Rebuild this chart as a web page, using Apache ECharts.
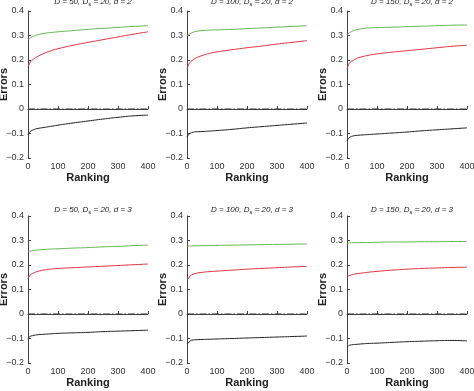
<!DOCTYPE html>
<html><head><meta charset="utf-8">
<script src="https://cdn.jsdelivr.net/npm/echarts@6/dist/echarts.min.js"></script>
<style>html,body{margin:0;padding:0;background:#fff}#c{width:474px;height:391px}</style>
</head><body><div id="c"></div>
<script>
// Ranking positions (x)
const ranking = [0, 5, 10, 20, 30, 50, 75, 100, 150, 200, 250, 300, 350, 400];
const zeroX = [0, 400];
const zeroY = [0, 0];
const yTicks = ['0.4','0.3','0.2','0.1','0','-0.1','-0.2'];
const xTicks = ['0','100','200','300','400'];

const titles = [
  ['50','2'], ['100','2'], ['150','2'],
  ['50','3'], ['100','3'], ['150','3']
];

// Panel 1: D=50, d=2
const green1 = [0.283,0.288,0.292,0.298,0.302,0.308,0.312,0.315,0.320,0.325,0.329,0.333,0.337,0.340];
const red1   = [0.170,0.185,0.195,0.205,0.213,0.225,0.237,0.246,0.260,0.272,0.283,0.294,0.305,0.315];
const black1 = [-0.105,-0.095,-0.090,-0.084,-0.080,-0.076,-0.071,-0.066,-0.057,-0.049,-0.041,-0.034,-0.028,-0.025];
// Panel 2: D=100, d=2
const green2 = [0.298,0.303,0.307,0.313,0.317,0.320,0.322,0.323,0.325,0.328,0.331,0.334,0.337,0.340];
const red2   = [0.163,0.180,0.190,0.200,0.208,0.218,0.227,0.233,0.242,0.250,0.257,0.265,0.272,0.279];
const black2 = [-0.115,-0.105,-0.100,-0.095,-0.093,-0.092,-0.090,-0.088,-0.083,-0.077,-0.072,-0.067,-0.062,-0.057];
// Panel 3: D=150, d=2
const green3 = [0.302,0.308,0.313,0.319,0.323,0.328,0.331,0.332,0.334,0.336,0.338,0.340,0.342,0.343];
const red3   = [0.163,0.180,0.190,0.198,0.205,0.213,0.220,0.225,0.232,0.238,0.244,0.250,0.256,0.260];
const black3 = [-0.130,-0.120,-0.115,-0.110,-0.108,-0.106,-0.104,-0.102,-0.098,-0.094,-0.089,-0.085,-0.081,-0.077];
// Panel 4: D=50, d=3
const green4 = [0.255,0.256,0.257,0.259,0.261,0.263,0.265,0.266,0.269,0.271,0.274,0.276,0.279,0.281];
const red4   = [0.145,0.155,0.162,0.168,0.173,0.179,0.183,0.186,0.189,0.192,0.195,0.198,0.201,0.204];
const black4 = [-0.100,-0.093,-0.090,-0.087,-0.085,-0.083,-0.081,-0.079,-0.077,-0.075,-0.072,-0.070,-0.068,-0.066];
// Panel 5: D=100, d=3
const green5 = [0.276,0.277,0.277,0.278,0.278,0.279,0.279,0.280,0.281,0.282,0.283,0.284,0.285,0.286];
const red5   = [0.148,0.146,0.155,0.162,0.166,0.170,0.173,0.175,0.179,0.183,0.186,0.189,0.192,0.194];
const black5 = [-0.122,-0.118,-0.110,-0.106,-0.105,-0.104,-0.103,-0.102,-0.100,-0.098,-0.096,-0.094,-0.092,-0.090];
// Panel 6: D=150, d=3
const green6 = [0.287,0.289,0.290,0.291,0.291,0.292,0.292,0.293,0.294,0.294,0.295,0.295,0.296,0.296];
const red6   = [0.150,0.155,0.158,0.161,0.164,0.167,0.171,0.174,0.179,0.183,0.186,0.188,0.190,0.191];
const black6 = [-0.135,-0.130,-0.127,-0.125,-0.124,-0.122,-0.120,-0.119,-0.116,-0.113,-0.111,-0.109,-0.108,-0.110];

const greens = [green1,green2,green3,green4,green5,green6];
const reds = [red1,red2,red3,red4,red5,red6];
const blacks = [black1,black2,black3,black4,black5,black6];

const FONT = '"Liberation Sans", Arial, sans-serif';
const lefts = [28, 187, 347];
const tops = [11, 216];
const W = 120, H = 147;

const grid = [], xAxis = [], yAxis = [], series = [], title = [];
const pair = a => ranking.map((x,i)=>[x,a[i]]);

for (let p = 0; p < 6; p++) {
  const col = p % 3, row = Math.floor(p / 3);
  grid.push({left: lefts[col], top: tops[row], width: W, height: H,
    containLabel:false, outerBoundsMode:'none'});
  xAxis.push({
    type:'value', gridIndex:p, min:0, max:400, interval:100,
    name:'Ranking', nameLocation:'middle', nameGap:14, nameMoveOverlap:false,
    nameTextStyle:{fontFamily:FONT, fontWeight:'bold', fontSize:11, color:'#222'},
    axisLine:{lineStyle:{color:'#444', width:1}},
    axisTick:{inside:true, length:3, lineStyle:{color:'#444'}},
    axisLabel:{fontFamily:FONT, fontSize:9, color:'#333', margin:4,
      formatter: v => xTicks[Math.round(v/100)]},
    splitLine:{show:false}
  });
  yAxis.push({
    type:'value', gridIndex:p, min:-0.2, max:0.4, interval:0.1,
    name:'Errors', nameLocation:'middle', nameGap:19, nameMoveOverlap:false,
    nameTextStyle:{fontFamily:FONT, fontWeight:'bold', fontSize:11, color:'#222'},
    axisLine:{show:true, lineStyle:{color:'#444', width:1}},
    axisTick:{show:true, inside:true, length:3, lineStyle:{color:'#444'}},
    axisLabel:{fontFamily:FONT, fontSize:9, color:'#333', margin:4,
      formatter: v => yTicks[Math.round((0.4 - v)*10)].replace('-','\u2212')},
    splitLine:{show:false}
  });
  const cx = lefts[col] + W/2;
  title.push({
    text: 'D = ' + titles[p][0] + ', D{s|s} = 20, d = ' + titles[p][1],
    left: cx, top: row === 0 ? -8 : 200, textAlign:'center',
    textStyle:{fontFamily:FONT, fontStyle:'italic', fontSize:8, fontWeight:'normal', color:'#222',
      rich:{s:{fontSize:6, fontStyle:'italic', verticalAlign:'bottom', padding:[4,0,0,0]}}}
  });
  series.push({type:'line', xAxisIndex:p, yAxisIndex:p, data: zeroX.map((x,i)=>[x,zeroY[i]]),
    symbol:'none', lineStyle:{color:'#333', width:1, type:[7,2,1.5,2]}, silent:true});
  series.push({type:'line', xAxisIndex:p, yAxisIndex:p, data: pair(greens[p]), smooth:true,
    symbol:'none', lineStyle:{color:'#5cb84a', width:1}});
  series.push({type:'line', xAxisIndex:p, yAxisIndex:p, data: pair(reds[p]), smooth:true,
    symbol:'none', lineStyle:{color:'#e0303c', width:1}});
  series.push({type:'line', xAxisIndex:p, yAxisIndex:p, data: pair(blacks[p]), smooth:true,
    symbol:'none', lineStyle:{color:'#222', width:1}});
}

const chart = echarts.init(document.getElementById('c'), null, {renderer:'canvas'});
chart.setOption({animation:false, backgroundColor:'#fff', title, grid, xAxis, yAxis, series});
</script>
</body></html>
